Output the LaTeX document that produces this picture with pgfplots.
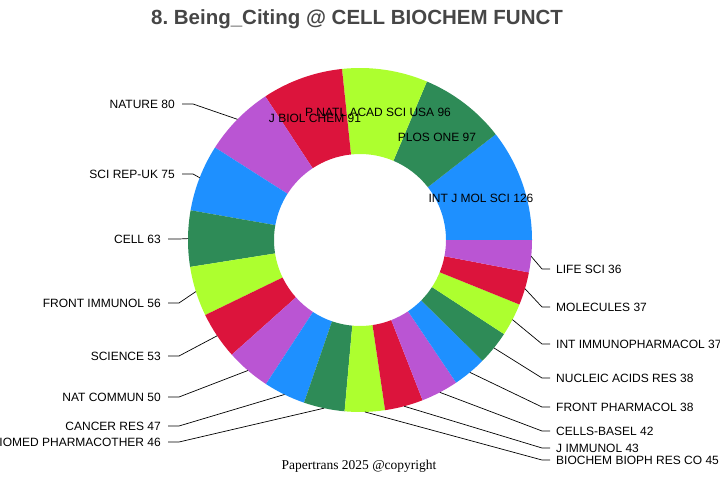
\documentclass[border=0pt]{standalone}
\usepackage{pgfplots}
\usepackage{pgfplotstable}
\pgfplotsset{compat=1.18}
\usepackage{fontspec}
\setmainfont{Liberation Sans}
\newfontfamily\footfont{Liberation Serif}
\frenchspacing

\definecolor{c0}{HTML}{1E90FF}
\definecolor{c1}{HTML}{2E8B57}
\definecolor{c2}{HTML}{ADFF2F}
\definecolor{c3}{HTML}{DC143C}
\definecolor{c4}{HTML}{BA55D3}
\definecolor{titlegray}{HTML}{464646}

% mode: 0 label inside, 1 label left, 2 label right
% lx, ly: label anchor (pixels, y down); ex: x of the leader elbow
\pgfplotstableread[col sep=comma]{
name,value,mode,lx,ly,ex
INT J MOL SCI,126,0,481,198,0
PLOS ONE,97,0,437,137,0
P NATL ACAD SCI USA,96,0,378,112,0
J BIOL CHEM,91,0,315,118,0
NATURE,80,1,175,104,193
SCI REP-UK,75,1,175,174,193
CELL,63,1,161,239,179
FRONT IMMUNOL,56,1,161,303,179
SCIENCE,53,1,161,356,179
NAT COMMUN,50,1,161,397,179
CANCER RES,47,1,161,426,179
BIOMED PHARMACOTHER,46,1,161,442,179
BIOCHEM BIOPH RES CO,45,2,556,460,542
J IMMUNOL,43,2,556,448,542
CELLS-BASEL,42,2,556,431,542
FRONT PHARMACOL,38,2,556,407,542
NUCLEIC ACIDS RES,38,2,556,378,542
INT IMMUNOPHARMACOL,37,2,556,344,542
MOLECULES,37,2,556,307,542
LIFE SCI,36,2,556,269,542
}\journals

\tikzset{
  lbl/.style={font=\fontsize{12bp}{14bp}\selectfont, inner sep=0pt, text=black},
  leader/.style={draw=black, line width=0.7bp},
}

\begin{document}
\begin{tikzpicture}
\begin{axis}[
  scale only axis,
  width=720bp, height=480bp,
  xmin=0, xmax=720, ymin=0, ymax=480,
  y dir=reverse,
  hide axis,
  clip=false,
]
\pgfplotstablegetrowsof{\journals}
\pgfmathtruncatemacro\nrows{\pgfplotsretval-1}

% total of all values
\def\total{0}
\pgfplotsforeachungrouped \i in {0,...,\nrows}{%
  \pgfplotstablegetelem{\i}{value}\of\journals
  \pgfmathsetmacro\total{\total+\pgfplotsretval}%
}

% ring slices, counter-clockwise from 0 degrees
\def\a{0}
\pgfplotsforeachungrouped \i in {0,...,\nrows}{%
  \pgfplotstablegetelem{\i}{value}\of\journals
  \pgfmathsetmacro\b{\a+\pgfplotsretval/\total*360}%
  \pgfmathsetmacro\m{(\a+\b)/2}%
  \expandafter\xdef\csname mid\i\endcsname{\m}%
  \pgfmathtruncatemacro\j{mod(\i,5)}%
  \edef\cmd{\noexpand\fill[c\j] (axis cs:360,240) ++(\a:172bp)
    arc[start angle=\a, end angle=\b, radius=172bp]
    -- ++(\b+180:86bp)
    arc[start angle=\b, end angle=\a, radius=86bp] -- cycle;}%
  \cmd
  \let\a\b
}

% labels and leader lines
\pgfplotsforeachungrouped \i in {0,...,\nrows}{%
  \pgfplotstablegetelem{\i}{name}\of\journals \let\nm\pgfplotsretval
  \pgfplotstablegetelem{\i}{value}\of\journals \let\v\pgfplotsretval
  \pgfplotstablegetelem{\i}{mode}\of\journals \let\md\pgfplotsretval
  \pgfplotstablegetelem{\i}{lx}\of\journals \let\lx\pgfplotsretval
  \pgfplotstablegetelem{\i}{ly}\of\journals \let\ly\pgfplotsretval
  \pgfplotstablegetelem{\i}{ex}\of\journals \let\ex\pgfplotsretval
  \edef\m{\csname mid\i\endcsname}%
  \ifcase\md
    \edef\cmd{\noexpand\node[lbl] at (axis cs:\lx,\ly) {\nm\space\v};}%
  \or
    \pgfmathsetmacro\hx{\lx+7}%
    \edef\cmd{\noexpand\draw[leader] (axis cs:360,240) ++(\m:172bp)
      -- (axis cs:\ex,\ly) -- (axis cs:\hx,\ly);
      \noexpand\node[lbl, anchor=east] at (axis cs:\lx,\ly) {\nm\space\v};}%
  \or
    \pgfmathsetmacro\hx{\lx-6}%
    \edef\cmd{\noexpand\draw[leader] (axis cs:360,240) ++(\m:172bp)
      -- (axis cs:\ex,\ly) -- (axis cs:\hx,\ly);
      \noexpand\node[lbl, anchor=west] at (axis cs:\lx,\ly) {\nm\space\v};}%
  \fi
  \cmd
}

\node[font=\bfseries\fontsize{20.5bp}{24bp}\selectfont, text=titlegray]
  at (axis cs:357,19) {8. Being\_Citing @ CELL BIOCHEM FUNCT};
\node[font=\footfont\fontsize{13.5bp}{16bp}\selectfont]
  at (axis cs:359,466) {Papertrans 2025 @copyright};
\end{axis}
\pgfresetboundingbox
\path (current axis.south west) rectangle (current axis.north east);
\end{tikzpicture}
\end{document}
